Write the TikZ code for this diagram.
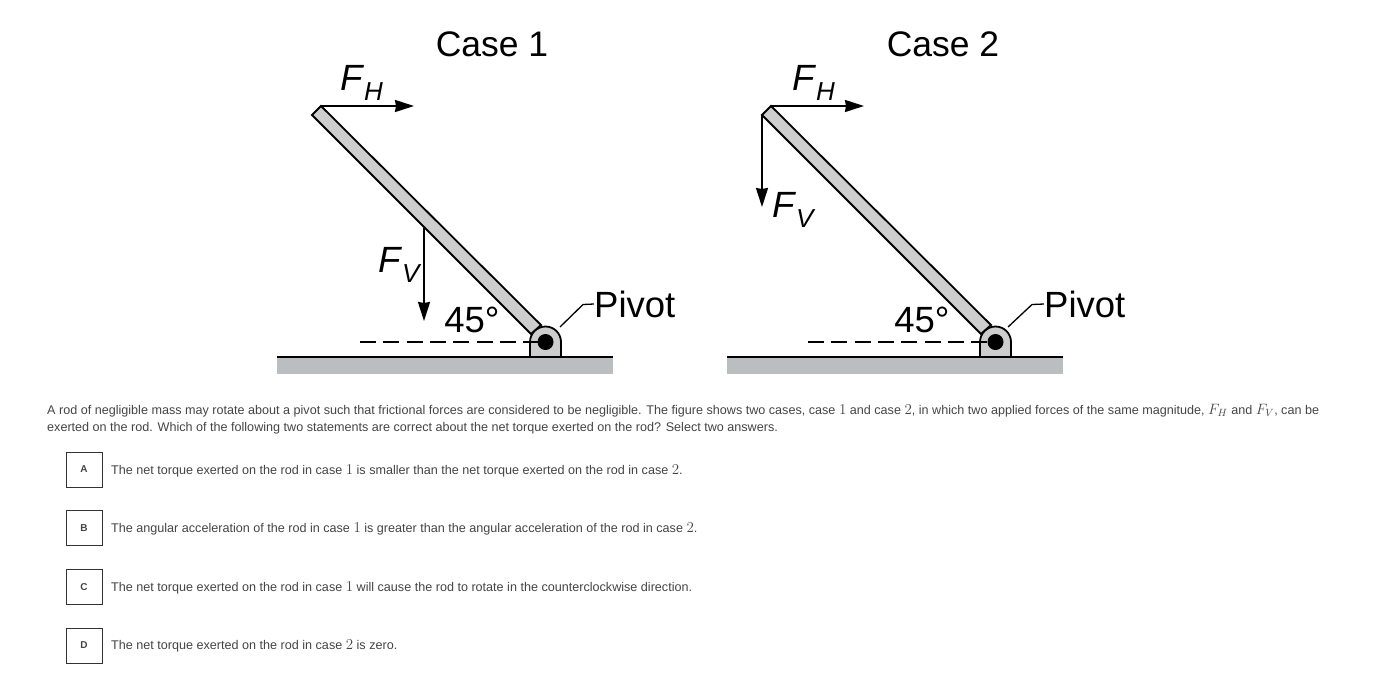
\documentclass[tikz,border=0pt]{standalone}
\usepackage{fix-cm}
\usepackage{fontspec}
\setmainfont{Liberation Sans}
\usetikzlibrary{arrows.meta}
\definecolor{rodgray}{HTML}{CDCDCD}
\definecolor{groundgray}{HTML}{BCBDC0}
\definecolor{bodygray}{HTML}{444444}
\newcommand{\forcelabel}[1]{\textit{F}\raisebox{-10.5pt}{\fontsize{26}{26}\selectfont\textit{#1}}}
\newcommand{\inl}[1]{{\fontsize{15}{14}\selectfont$#1$}}

\begin{document}
\begin{tikzpicture}[x=1pt,y=-1pt,
    title/.style={inner sep=0pt, font=\fontsize{35.5}{38}\selectfont},
    label/.style={inner sep=0pt, font=\fontsize{36.5}{38}\selectfont},
    rod/.style={draw, line width=1.8pt, fill=rodgray},
    ground/.style={fill=groundgray},
    floor/.style={line width=2pt},
    force/.style={line width=1.7pt, -{Stealth[length=19pt,width=12pt,inset=1pt]}},
    guide/.style={line width=1.4pt, dash pattern=on 16pt off 7.3pt},
    leader/.style={line width=1.3pt},
    body/.style={anchor=base west, inner sep=0pt, text=bodygray, font=\fontsize{12.6}{14}\selectfont},
    answer/.style={draw=black!80, line width=1pt, minimum width=36pt, minimum height=35pt, inner sep=0pt, font=\fontsize{10}{12}\selectfont\bfseries, text=bodygray}]
    \useasboundingbox (0,0) rectangle (1393,673);

    % First case
    \node[title] (case-1) at (492,44) {Case 1};
    \coordinate (tip-1) at (321,106);
    \coordinate (corner-1) at (312,115);
    \coordinate (low-1) at (531,334);
    \coordinate (high-1) at (541,325);
    \coordinate (hinge-1) at (545.5,342);
    \fill[ground] (277,357) rectangle (612.5,374);
    \draw[floor] (277,357) -- (612.5,357);
    \draw[rod] (tip-1) -- (corner-1) -- (low-1) -- (high-1) -- cycle;
    \draw[rod] (530,357) -- (530,342) arc[start angle=180, end angle=360, radius=15.5] -- (561,357) -- cycle;
    \coordinate (guide-1) at (360,342);
    \draw[guide] (guide-1) -- (hinge-1);
    \node[circle, fill=black, minimum size=16pt, inner sep=0pt] (pin-1) at (hinge-1) {};
    \coordinate (fh-1) at (414,106);
    \draw[force] (tip-1) -- (fh-1);
    \coordinate (fvtop-1) at (424,228);
    \coordinate (fv-1) at (424,321);
    \draw[force] (fvtop-1) -- (fv-1);
    \node[label, anchor=base west] (fhlabel-1) at (340,90) {\forcelabel{H}};
    \node[label, anchor=base west] (fvlabel-1) at (378,272) {\forcelabel{V}};
    \node[label] (angle-1) at (472,320) {45°};
    \node[label, anchor=west] (pivot-1) at (594,304) {Pivot};
    \coordinate (lead-1) at (560,327);
    \draw[leader] (lead-1) -- (583,304.5) -- (pivot-1.west);

    % Second case
    \node[title] (case-2) at (943,44) {Case 2};
    \coordinate (tip-2) at (771,106);
    \coordinate (corner-2) at (762,115);
    \coordinate (low-2) at (981,334);
    \coordinate (high-2) at (991,325);
    \coordinate (hinge-2) at (995.5,342);
    \fill[ground] (727,357) rectangle (1063,374);
    \draw[floor] (727,357) -- (1063,357);
    \draw[rod] (tip-2) -- (corner-2) -- (low-2) -- (high-2) -- cycle;
    \draw[rod] (980,357) -- (980,342) arc[start angle=180, end angle=360, radius=15.5] -- (1011,357) -- cycle;
    \coordinate (guide-2) at (808,342);
    \draw[guide] (guide-2) -- (hinge-2);
    \node[circle, fill=black, minimum size=16pt, inner sep=0pt] (pin-2) at (hinge-2) {};
    \coordinate (fh-2) at (864,106);
    \draw[force] (tip-2) -- (fh-2);
    \coordinate (fv-2) at (762,207);
    \draw[force] (corner-2) -- (fv-2);
    \node[label, anchor=base west] (fhlabel-2) at (792,90) {\forcelabel{H}};
    \node[label, anchor=base west] (fvlabel-2) at (772,217) {\forcelabel{V}};
    \node[label] (angle-2) at (922,320) {45°};
    \node[label, anchor=west] (pivot-2) at (1044,304) {Pivot};
    \coordinate (lead-2) at (1008,327);
    \draw[leader] (lead-2) -- (1032,304.5) -- (pivot-2.west);

    % Question
    \node[body] (line-1) at (47,414) {A rod of negligible mass may rotate about a pivot such that frictional forces are considered to be negligible. The figure shows two cases, case \inl{1} and case \inl{2}, in which two applied forces of the same magnitude, \inl{F_H} and \inl{F_V}, can be};
    \node[body] (line-2) at (47,431) {exerted on the rod. Which of the following two statements are correct about the net torque exerted on the rod? Select two answers.};

    % Answers
    \node[answer] (box-a) at (84,469.5) {A};
    \node[answer] (box-b) at (84,528) {B};
    \node[answer] (box-c) at (84,587) {C};
    \node[answer] (box-d) at (84,645.5) {D};
    \node[body] (text-a) at (111,474) {The net torque exerted on the rod in case \inl{1} is smaller than the net torque exerted on the rod in case \inl{2}.};
    \node[body] (text-b) at (111,532) {The angular acceleration of the rod in case \inl{1} is greater than the angular acceleration of the rod in case \inl{2}.};
    \node[body] (text-c) at (111,591) {The net torque exerted on the rod in case \inl{1} will cause the rod to rotate in the counterclockwise direction.};
    \node[body] (text-d) at (111,649) {The net torque exerted on the rod in case \inl{2} is zero.};
\end{tikzpicture}
\end{document}
